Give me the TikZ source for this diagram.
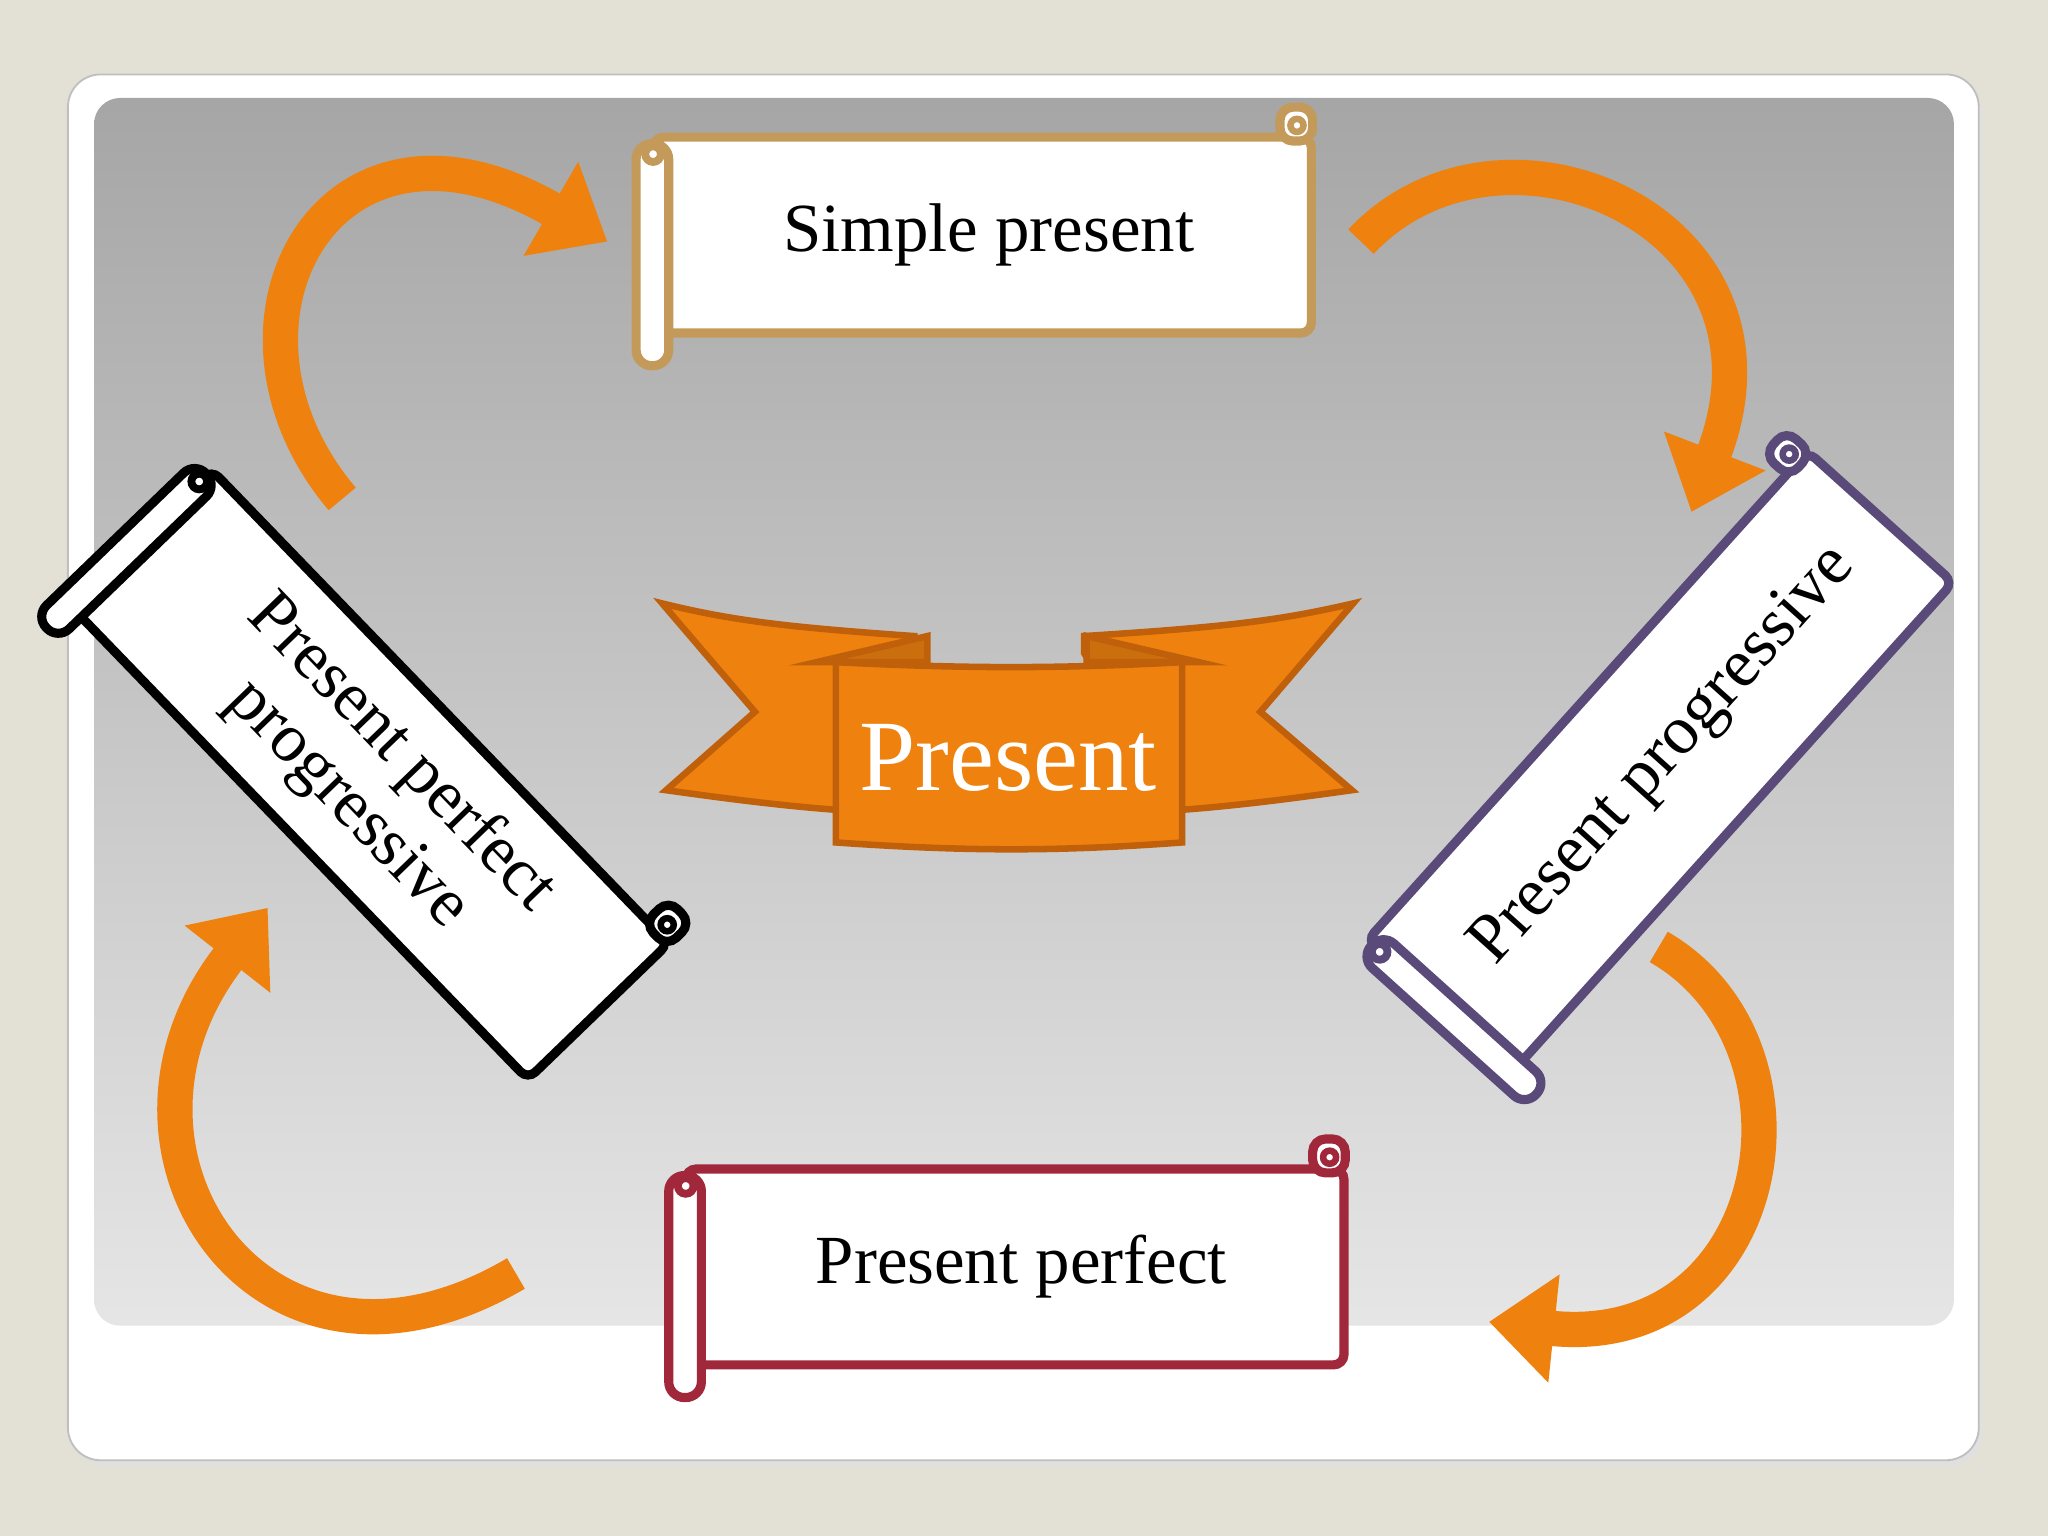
\documentclass[tikz,border=0pt]{standalone}
\usepackage{fontspec}
\setmainfont{Liberation Serif}
\usetikzlibrary{arrows.meta}

\definecolor{paper}{HTML}{E3E0D5}
\definecolor{arrowfill}{HTML}{EF820F}
\definecolor{arrowedge}{HTML}{C0600A}
\definecolor{goldscroll}{HTML}{C49A5A}
\definecolor{redscroll}{HTML}{A0283A}
\definecolor{purplescroll}{HTML}{5A4A7A}

\tikzset{
  bendarrow/.style={line width=0.27cm, draw=arrowfill, -{Triangle[width=0.8cm,length=0.5cm,fill=arrowfill]}},
  scrolltext/.style={font=\fontsize{15}{18}\selectfont, align=center, transform shape}
}

% one scroll: centre x, centre y, angle, colour, name, text
\newcommand{\scrollbox}[6]{
\begin{scope}[shift={(#1,#2)}, rotate=#3]
  \draw[#4, line width=0.07cm, fill=white, rounded corners=0.08cm] (-252,-75) rectangle (252,75);
  \draw[#4, line width=0.07cm, fill=white, rounded corners=0.12cm] (-265,-70) rectangle (-240,100);
  \draw[#4, line width=0.06cm, fill=white] (-252,-62) circle (6);
  \draw[#4, line width=0.07cm, fill=white, rounded corners=0.1cm] (228,-98) rectangle (253,-72);
  \draw[#4, line width=0.05cm] (241,-84) circle (5);
  \node[scrolltext] (#5) at (5,0) {#6};
\end{scope}
}

\begin{document}
\begin{tikzpicture}[x=0.01cm, y=-0.01cm]

\fill[paper] (0,0) rectangle (1568,1176);
\useasboundingbox (0,0) rectangle (1568,1176);

\fill[black!12, rounded corners=0.25cm] (55,61) rectangle (1518,1122);
\draw[black!25, fill=white, rounded corners=0.25cm] (52,57) rectangle (1515,1118);
\shade[top color=black!35, bottom color=black!10, rounded corners=0.2cm] (72,75) rectangle (1496,1015);

% arrows
\draw[bendarrow] (262,382) .. controls (150,250) and (250,60) .. (465,185);
\draw[bendarrow] (1042,185) .. controls (1150,70) and (1380,170) .. (1295,392);
\draw[bendarrow] (1270,725) .. controls (1400,800) and (1360,1035) .. (1140,1012);
\draw[bendarrow] (395,975) .. controls (200,1090) and (60,880) .. (205,695);

% scrolls
\scrollbox{752}{180}{0}{goldscroll}{simple}{Simple present}
\scrollbox{777}{970}{0}{redscroll}{perfect}{Present perfect}
\scrollbox{1271}{583}{48}{purplescroll}{progressive}{Present progressive}
\scrollbox{283}{593}{-46}{black}{perfprog}{Present perfect\\[-2pt] progressive}

% banner
\begin{scope}[draw=arrowedge, fill=arrowfill, line width=0.05cm]
  \filldraw (507,462) .. controls (560,475) and (600,480) .. (700,487) -- (700,500) -- (640,620) .. controls (600,617) and (560,612) .. (510,605) -- (578,545) -- cycle;
  \filldraw (1036,462) .. controls (980,475) and (940,480) .. (830,487) -- (830,500) -- (905,620) .. controls (945,617) and (985,612) .. (1035,605) -- (965,545) -- cycle;
  \filldraw[fill=arrowfill!85!black] (625,507) -- (710,487) -- (710,507) -- cycle;
  \filldraw[fill=arrowfill!85!black] (918,507) -- (832,487) -- (832,507) -- cycle;
  \filldraw (640,507) .. controls (740,512) and (810,512) .. (905,507) -- (905,645) .. controls (810,652) and (740,652) .. (640,645) -- cycle;
\end{scope}
\node[text=white, font=\fontsize{22}{26}\selectfont] (present) at (772,580) {Present};

\end{tikzpicture}
\end{document}
